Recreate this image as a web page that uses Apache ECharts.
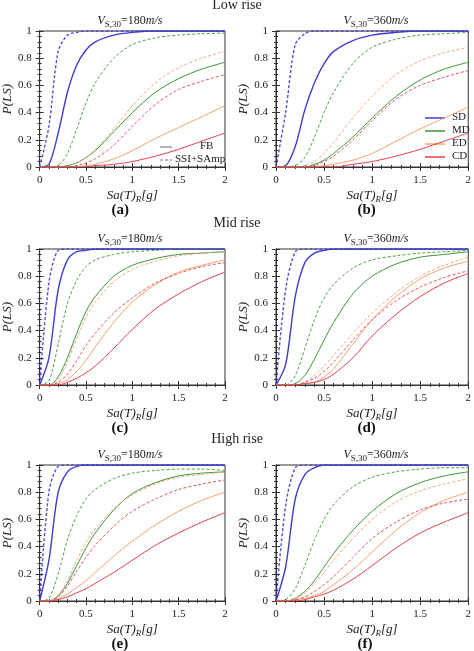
<!DOCTYPE html>
<html><head><meta charset="utf-8">
<script src="https://cdn.jsdelivr.net/npm/echarts@6/dist/echarts.min.js"></script>
<style>html,body{margin:0;background:#fff}#c{width:474px;height:651px}</style>
</head><body><div id="c"></div>
<script>
var xs = [0,0.1,0.2,0.3,0.4,0.5,0.6,0.8,1,1.25,1.5,1.75,2];
var states = ['SD','MD','ED','CD'];
var colors = ['#3c3ccf','#3a963a','#f2a06e','#e2404e'];
var rowTitles = ['Low rise','Mid rise','High rise'];
var panelTags = ['(a)','(b)','(c)','(d)','(e)','(f)'];
var vs = ['180','360'];
// per panel: [SD solid, SD dashed, MD solid, MD dashed, ED solid, ED dashed, CD solid, CD dashed]
var panelA = [
 [0,0.02,0.25,0.55,0.75,0.86,0.92,0.97,0.99,1,1,1,1],
 [0,0.3,0.85,0.97,0.99,1,1,1,1,1,1,1,1],
 [0,0,0,0.01,0.03,0.07,0.12,0.26,0.4,0.55,0.65,0.72,0.77],
 [0,0,0.01,0.1,0.28,0.47,0.62,0.8,0.9,0.95,0.97,0.98,0.985],
 [0,0,0,0,0,0.01,0.02,0.06,0.12,0.21,0.29,0.37,0.45],
 [0,0,0,0.01,0.03,0.07,0.13,0.28,0.45,0.62,0.73,0.8,0.85],
 [0,0,0,0,0,0,0.01,0.02,0.04,0.08,0.13,0.19,0.25],
 [0,0,0,0,0.01,0.03,0.06,0.16,0.3,0.46,0.57,0.63,0.68]];
var panelB = [
 [0,0.01,0.15,0.42,0.62,0.76,0.85,0.93,0.97,0.99,1,1,1],
 [0,0.4,0.9,0.98,1,1,1,1,1,1,1,1,1],
 [0,0,0,0,0.02,0.05,0.1,0.22,0.36,0.52,0.64,0.72,0.77],
 [0,0,0.01,0.07,0.22,0.4,0.55,0.76,0.88,0.94,0.97,0.98,0.99],
 [0,0,0,0,0,0.01,0.02,0.05,0.1,0.19,0.28,0.36,0.44],
 [0,0,0,0.01,0.04,0.1,0.18,0.36,0.52,0.68,0.78,0.84,0.88],
 [0,0,0,0,0,0,0,0.02,0.04,0.08,0.13,0.19,0.25],
 [0,0,0,0,0.01,0.04,0.08,0.2,0.34,0.5,0.6,0.66,0.71]];
var panelC = [
 [0,0.2,0.7,0.92,0.98,0.99,1,1,1,1,1,1,1],
 [0,0.75,0.99,1,1,1,1,1,1,1,1,1,1],
 [0,0,0.06,0.2,0.38,0.54,0.65,0.8,0.88,0.93,0.96,0.97,0.98],
 [0,0.03,0.3,0.6,0.77,0.87,0.92,0.96,0.98,0.99,1,1,1],
 [0,0,0.01,0.04,0.1,0.18,0.28,0.46,0.61,0.74,0.83,0.88,0.92],
 [0,0,0.04,0.17,0.34,0.5,0.61,0.76,0.85,0.91,0.95,0.97,0.98],
 [0,0,0,0.02,0.05,0.09,0.14,0.27,0.41,0.56,0.67,0.76,0.83],
 [0,0,0.02,0.08,0.18,0.29,0.38,0.53,0.64,0.75,0.82,0.87,0.9]];
var panelD = [
 [0,0.15,0.65,0.9,0.97,0.99,1,1,1,1,1,1,1],
 [0,0.7,0.98,1,1,1,1,1,1,1,1,1,1],
 [0,0,0.01,0.07,0.19,0.33,0.46,0.67,0.8,0.89,0.94,0.96,0.98],
 [0,0,0.07,0.27,0.48,0.64,0.74,0.86,0.92,0.95,0.97,0.98,0.99],
 [0,0,0,0.01,0.02,0.06,0.12,0.3,0.48,0.65,0.78,0.86,0.91],
 [0,0,0,0.02,0.07,0.14,0.22,0.38,0.53,0.68,0.8,0.88,0.94],
 [0,0,0,0.01,0.02,0.04,0.08,0.2,0.36,0.52,0.65,0.75,0.82],
 [0,0,0,0.02,0.05,0.1,0.17,0.33,0.48,0.62,0.72,0.79,0.84]];
var panelE = [
 [0,0.3,0.8,0.95,0.99,1,1,1,1,1,1,1,1],
 [0,0.8,0.99,1,1,1,1,1,1,1,1,1,1],
 [0,0,0.04,0.13,0.26,0.39,0.5,0.67,0.79,0.87,0.92,0.94,0.95],
 [0,0.02,0.2,0.45,0.63,0.75,0.82,0.9,0.94,0.96,0.97,0.97,0.96],
 [0,0,0.02,0.05,0.1,0.15,0.21,0.33,0.44,0.56,0.66,0.74,0.8],
 [0,0,0.04,0.15,0.3,0.43,0.53,0.68,0.78,0.86,0.91,0.93,0.95],
 [0,0,0.01,0.03,0.06,0.09,0.13,0.21,0.3,0.41,0.5,0.58,0.65],
 [0,0,0.03,0.11,0.22,0.32,0.41,0.55,0.66,0.75,0.82,0.86,0.89]];
var panelF = [
 [0,0.25,0.75,0.93,0.98,1,1,1,1,1,1,1,1],
 [0,0.7,0.98,1,1,1,1,1,1,1,1,1,1],
 [0,0,0.02,0.07,0.15,0.25,0.35,0.52,0.66,0.79,0.87,0.92,0.95],
 [0,0.01,0.09,0.26,0.45,0.6,0.71,0.84,0.91,0.95,0.97,0.98,0.98],
 [0,0,0.01,0.02,0.04,0.07,0.12,0.23,0.36,0.52,0.65,0.74,0.8],
 [0,0,0.02,0.06,0.13,0.21,0.3,0.46,0.6,0.73,0.81,0.86,0.9],
 [0,0,0,0.01,0.03,0.05,0.08,0.16,0.26,0.39,0.5,0.58,0.65],
 [0,0,0.01,0.03,0.07,0.12,0.18,0.32,0.46,0.58,0.67,0.72,0.75]];
var panels = [panelA,panelB,panelC,panelD,panelE,panelF];

var font = 'Liberation Serif';
var lefts = [30,276], tops = [31,249,465], W = 195, H = 136;
var grid = [], xAxis = [], yAxis = [], series = [], graphic = [];
var tickStyle = {show:true, inside:true, length:4, lineStyle:{color:'#333'}};
var minorStyle = {show:true, splitNumber:5, length:2, lineStyle:{color:'#333'}};

panels.forEach(function(p, i){
    var col = i % 2, row = Math.floor(i / 2);
    grid.push({left:lefts[col], top:tops[row], width:W, height:H, show:true, borderColor:'#333', borderWidth:1});
    var base = {type:'value', gridIndex:i, min:0, max:2, interval:0.5, axisTick:tickStyle, minorTick:minorStyle, splitLine:{show:false}, axisLine:{lineStyle:{color:'#333'}}};
    xAxis.push(Object.assign({}, base, {
        axisLabel:{fontFamily:font, fontSize:11, color:'#222', formatter:function(v){return String(v);}},
        name:'{i|Sa}{i|(}{i|T}{i|)}{s|R}{i|[g]}', nameLocation:'middle', nameGap:20,
        nameTextStyle:{rich:{i:{fontFamily:font, fontStyle:'italic', fontSize:13, color:'#222'}, s:{fontFamily:font, fontStyle:'italic', fontSize:9, color:'#222', verticalAlign:'bottom', padding:[8,0,0,0]}}}
    }));
    xAxis.push(Object.assign({}, base, {position:'top', axisLabel:{show:false}}));
    var ybase = {type:'value', gridIndex:i, min:0, max:1, interval:0.2, axisTick:tickStyle, minorTick:minorStyle, splitLine:{show:false}, axisLine:{lineStyle:{color:'#333'}}};
    yAxis.push(Object.assign({}, ybase, {
        axisLabel:{fontFamily:font, fontSize:11, color:'#222', formatter:function(v){return String(v);}},
        name:'P(LS)', nameLocation:'middle', nameGap:20,
        nameTextStyle:{fontFamily:font, fontStyle:'italic', fontSize:13, color:'#222'}
    }));
    yAxis.push(Object.assign({}, ybase, {position:'right', axisLabel:{show:false}}));
    p.forEach(function(vals, k){
        var s = Math.floor(k / 2), dashed = k % 2 === 1;
        series.push({
            type:'line', xAxisIndex:2*i, yAxisIndex:2*i, showSymbol:false, smooth:0.3,
            data: xs.map(function(x, j){return [x, vals[j]];}),
            lineStyle:{color:colors[s], width: s === 0 ? 1.4 : 1, type: dashed ? [3,2] : 'solid', opacity: dashed ? 0.9 : 1},
            silent:true
        });
    });
    graphic.push({type:'text', left:lefts[col] + W/2 - 30, top:tops[row] - 16, style:{
        text:'{i|V}{s|S,30}{n|=' + vs[col] + '}{i|m/s}', fill:'#222',
        rich:{i:{fontFamily:font, fontStyle:'italic', fontSize:12}, n:{fontFamily:font, fontSize:12},
              s:{fontFamily:font, fontSize:9, padding:[8,0,0,0]}}}});
    graphic.push({type:'text', left:lefts[col] + W/2 - 16, top:tops[row] + H + 36, style:{
        text:panelTags[i], fontFamily:font, fontWeight:'bold', fontSize:15, fill:'#111'}});
});
rowTitles.forEach(function(t, r){
    graphic.push({type:'text', left:'center', top:tops[r] - 33, style:{text:t, fontFamily:font, fontSize:14, fill:'#222'}});
});
// line-style legend in panel (a)
graphic.push({type:'line', shape:{x1:160, y1:147, x2:172, y2:147}, style:{stroke:'#999', lineWidth:1.5}});
graphic.push({type:'text', left:200, top:141, style:{text:'FB', fontFamily:font, fontSize:11, fill:'#222'}});
graphic.push({type:'line', shape:{x1:160, y1:160, x2:172, y2:160}, style:{stroke:'#777', lineWidth:1, lineDash:[3,2]}});
graphic.push({type:'text', left:175, top:154, style:{text:'SSI+SAmp', fontFamily:font, fontSize:11, fill:'#222'}});
// damage state legend in panel (b)
states.forEach(function(s, k){
    var y = 118 + k * 13;
    graphic.push({type:'line', shape:{x1:425, y1:y, x2:445, y2:y}, style:{stroke:colors[k], lineWidth:1.5}});
    graphic.push({type:'text', left:452, top:y - 6, style:{text:s, fontFamily:font, fontSize:11, fill:'#222'}});
});

var chart = echarts.init(document.getElementById('c'));
chart.setOption({animation:false, grid:grid, xAxis:xAxis, yAxis:yAxis, series:series, graphic:graphic});
</script></body></html>
